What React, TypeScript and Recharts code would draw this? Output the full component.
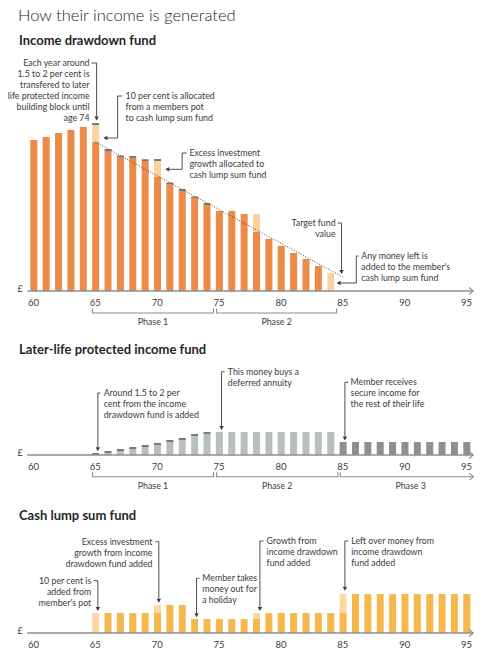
import React from 'react';
import { ComposedChart, Bar, Line, XAxis, YAxis, ReferenceLine, ReferenceDot } from 'recharts';

// ---------- data ----------
const years = [60, 61, 62, 63, 64, 65, 66, 67, 68, 69, 70, 71, 72, 73, 74, 75, 76, 77, 78, 79, 80, 81, 82, 83, 84, 85, 86, 87, 88, 89, 90, 91, 92, 93, 94, 95];
const tickYears = [60, 65, 70, 75, 80, 85, 90, 95];

// Income drawdown fund (ages 60..95)
const drawdownInvested = [151, 154, 158, 161, 164, 149, 140, 134, 133, 130, 114, 107, 100, 93, 86, 80, 80, 77, 59, 52, 45, 38, 32, 25, 0, 0, 0, 0, 0, 0, 0, 0, 0, 0, 0, 0];
const drawdownToCashFund = [0, 0, 0, 0, 0, 17, 0, 0, 0, 0, 16, 0, 0, 0, 0, 0, 0, 0, 18, 0, 0, 0, 0, 0, 18, 0, 0, 0, 0, 0, 0, 0, 0, 0, 0, 0];
const drawdownToLaterLife = [0, 0, 0, 0, 0, 2, 2, 1.5, 2, 1.7, 2, 1.5, 2, 1.5, 2, 0, 0, 0, 0, 0, 0, 0, 0, 0, 0, 0, 0, 0, 0, 0, 0, 0, 0, 0, 0, 0];
const targetFundAges = [65, 85];
const targetFundValues = [149, 14];

// Later-life protected income fund
const laterLifeBuilt = [0, 0, 0, 0, 0, 0, 2, 4, 6, 8, 10, 13, 15, 19, 21, 23, 23, 23, 23, 23, 23, 23, 23, 23, 23, 0, 0, 0, 0, 0, 0, 0, 0, 0, 0, 0];
const laterLifeTransfer = [0, 0, 0, 0, 0, 2, 2, 2, 2, 2, 2, 2, 2, 2, 2, 0, 0, 0, 0, 0, 0, 0, 0, 0, 0, 0, 0, 0, 0, 0, 0, 0, 0, 0, 0, 0];
const annuityIncome = [0, 0, 0, 0, 0, 0, 0, 0, 0, 0, 0, 0, 0, 0, 0, 0, 0, 0, 0, 0, 0, 0, 0, 0, 0, 13, 13, 13, 13, 13, 13, 13, 13, 13, 13, 13];

// Cash lump sum fund
const cashHeld = [0, 0, 0, 0, 0, 0, 20, 20, 20, 20, 20, 28, 28, 14, 14, 14, 14, 14, 14, 20, 20, 20, 20, 20, 20, 20, 39, 39, 39, 39, 39, 39, 39, 39, 39, 39];
const cashAdded = [0, 0, 0, 0, 0, 20, 0, 0, 0, 0, 8, 0, 0, 0, 0, 0, 0, 0, 6, 0, 0, 0, 0, 0, 0, 19, 0, 0, 0, 0, 0, 0, 0, 0, 0, 0];

const drawdownRows = years.map((year, i) => {
  const t = targetFundAges.indexOf(year);
  return {
    year,
    invested: drawdownInvested[i],
    toCash: drawdownToCashFund[i],
    toLaterLife: drawdownToLaterLife[i],
    target: t >= 0 ? targetFundValues[t] : null,
  };
});
const laterRows = years.map((year, i) => ({
  year,
  built: laterLifeBuilt[i],
  transfer: laterLifeTransfer[i],
  annuity: annuityIncome[i],
}));
const cashRows = years.map((year, i) => ({ year, held: cashHeld[i], added: cashAdded[i] }));

// ---------- style ----------
const FONT = "Lato, 'Open Sans', sans-serif";
const INK = '#3b3b3b';
const AXIS = '#8a8f90';
const ORANGE = '#ec8a48';
const ORANGE_LIGHT = '#fbd3a1';
const CAP = '#767b7d';
const GREY_LIGHT = '#b9bebe';
const GREY_DARK = '#8b9191';
const YELLOW = '#f5b84d';
const YELLOW_LIGHT = '#fcd9a3';
const NOTE_SIZE = 8.8;
const LINE_GAP = 11;
const MARGIN = { top: 0, right: 31.3, bottom: 0, left: 27.3 };
const BAR = 7;

// ---------- shapes ----------
const plainSeg = (p: any) => (
  <line x1={p.x1} y1={p.y1} x2={p.x2} y2={p.y2} stroke={INK} strokeWidth={0.9} />
);
const arrowSeg = (p: any) => {
  const dx = p.x2 - p.x1;
  const dy = p.y2 - p.y1;
  const len = Math.sqrt(dx * dx + dy * dy) || 1;
  const ux = dx / len;
  const uy = dy / len;
  const bx = p.x2 - ux * 4;
  const by = p.y2 - uy * 4;
  const pts = `${p.x2},${p.y2} ${bx - uy * 2.2},${by + ux * 2.2} ${bx + uy * 2.2},${by - ux * 2.2}`;
  return (
    <g>
      <line x1={p.x1} y1={p.y1} x2={bx} y2={by} stroke={INK} strokeWidth={0.9} />
      <polygon points={pts} fill={INK} />
    </g>
  );
};
const axisShape = (p: any) => (
  <g>
    <line x1={p.x1} y1={p.y1} x2={p.x2 + 0.5} y2={p.y2} stroke={AXIS} strokeWidth={1.4} />
    <polyline points={`${p.x2 - 3.5},${p.y2 - 3.5} ${p.x2 + 0.5},${p.y2} ${p.x2 - 3.5},${p.y2 + 3.5}`} fill="none" stroke={AXIS} strokeWidth={1.1} />
  </g>
);
const bracketShape = (p: any) => (
  <path d={`M${p.x1},${p.y1 - 4.5} V${p.y1} H${p.x2} V${p.y2 - 4.5}`} fill="none" stroke={AXIS} strokeWidth={1.1} />
);
const openBracketShape = (p: any) => (
  <g>
    <path d={`M${p.x1},${p.y1 - 4.5} V${p.y1} H${p.x2}`} fill="none" stroke={AXIS} strokeWidth={1.1} />
    <polyline points={`${p.x2 - 3.5},${p.y2 - 3.5} ${p.x2 + 0.5},${p.y2} ${p.x2 - 3.5},${p.y2 + 3.5}`} fill="none" stroke={AXIS} strokeWidth={1.1} />
  </g>
);
const textShape = (lines: string[], anchor: 'start' | 'end' | 'middle', size = NOTE_SIZE) => (p: any) => (
  <text x={p.cx} y={p.cy} textAnchor={anchor} fontFamily={FONT} fontSize={size} fill={INK}>
    {lines.map((l, i) => (
      <tspan key={i} x={p.cx} dy={i === 0 ? '0.35em' : LINE_GAP}>{l}</tspan>
    ))}
  </text>
);
const poundShape = (p: any) => (
  <text x={p.cx - 4.5} y={p.cy + 0.5} textAnchor="end" fontFamily={FONT} fontSize={9} fill={INK}>£</text>
);

// ---------- helpers ----------
type Pt = [number, number];
function leader(key: string, pts: Pt[]) {
  const out: any[] = [];
  for (let i = 0; i < pts.length - 1; i++) {
    const last = i === pts.length - 2;
    out.push(
      <ReferenceLine
        key={key + i}
        segment={[{ x: pts[i][0], y: pts[i][1] }, { x: pts[i + 1][0], y: pts[i + 1][1] }]}
        ifOverflow="visible"
        shape={last ? arrowSeg : plainSeg}
      />
    );
  }
  return out;
}
function note(key: string, x: number, y: number, lines: string[], anchor: 'start' | 'end' | 'middle') {
  return <ReferenceDot key={key} x={x} y={y} r={0} ifOverflow="visible" shape={textShape(lines, anchor)} />;
}
function bracket(key: string, from: number, to: number, y: number, open = false) {
  return (
    <ReferenceLine
      key={key}
      segment={[{ x: from, y }, { x: to, y }]}
      ifOverflow="visible"
      shape={open ? openBracketShape : bracketShape}
    />
  );
}
function baseAxis() {
  return [
    <ReferenceLine key="axis" y={0} ifOverflow="visible" shape={axisShape} />,
    <ReferenceDot key="pound" x={59.5} y={0} r={0} ifOverflow="visible" shape={poundShape} />,
  ];
}
const xAxisProps = {
  dataKey: 'year',
  type: 'number' as const,
  domain: [59.5, 95.5],
  ticks: tickYears,
  allowDataOverflow: true,
  axisLine: false,
  tickLine: false,
  interval: 0 as const,
  tick: { fontSize: 9.5, fill: INK, fontFamily: FONT },
};

const titleStyle = (top: number, size: number, weight: number): React.CSSProperties => ({
  position: 'absolute',
  left: 19,
  top,
  fontSize: size,
  fontWeight: weight,
  lineHeight: 1,
  color: '#262626',
  whiteSpace: 'nowrap',
  fontFamily: FONT,
});

export default function App() {
  return (
    <div style={{ position: 'absolute', left: 0, top: 0, width: 504, height: 662, background: '#fff', overflow: 'hidden' }}>
      <div style={{ ...titleStyle(7.4, 16.5, 300), left: 18 }}>How their income is generated</div>
      <div style={titleStyle(34, 13, 700)}>Income drawdown fund</div>
      <div style={titleStyle(342.5, 13, 700)}>Later-life protected income fund</div>
      <div style={titleStyle(508.5, 13, 700)}>Cash lump sum fund</div>

      {/* Income drawdown fund */}
      <div style={{ position: 'absolute', left: 0, top: 50 }}>
        <ComposedChart width={504} height={290} data={drawdownRows} margin={MARGIN}>
          <XAxis {...xAxisProps} height={49} />
          <YAxis hide type="number" domain={[0, 241]} allowDataOverflow />
          <Bar dataKey="invested" stackId="s" fill={ORANGE} barSize={BAR} isAnimationActive={false} />
          <Bar dataKey="toCash" stackId="s" fill={ORANGE_LIGHT} barSize={BAR} isAnimationActive={false} />
          <Bar dataKey="toLaterLife" stackId="s" fill={CAP} barSize={BAR} isAnimationActive={false} />
          <Line dataKey="target" stroke="#4a4a4a" strokeWidth={1} strokeDasharray="1 1.6" dot={false} connectNulls isAnimationActive={false} />
          {baseAxis()}
          {note('a', 64.53, 228, ['Each year around', '1.5 to 2 per cent is', 'transfered to later', 'life protected income', 'building block until', 'age 74'], 'end')}
          {leader('la', [[64.7, 228], [65.1, 228], [65.1, 170.5]])}
          {note('b', 67.44, 195, ['10 per cent is allocated', 'from a members pot', 'to cash lump sum fund'], 'start')}
          {leader('lb', [[67.15, 195], [66.8, 195], [66.8, 153], [65.65, 153]])}
          {note('c', 72.6, 138, ['Excess investment', 'growth allocated to', 'cash lump sum fund'], 'start')}
          {leader('lc', [[72.38, 138], [72.02, 138], [72.02, 121.7], [70.65, 121.7]])}
          {note('d', 84.42, 68, ['Target fund', 'value'], 'end')}
          {leader('ld', [[84.58, 68], [84.9, 68], [84.9, 17]])}
          {note('e', 86.5, 35, ['Any money left is', "added to the member's", 'cash lump sum fund'], 'start')}
          {leader('le', [[86.27, 35], [86.09, 35], [86.09, 8], [84.5, 8]])}
          {bracket('p1', 64.77, 74.55, -22)}
          {bracket('p2', 74.8, 84.5, -22)}
          {note('p1t', 69.66, -31, ['Phase 1'], 'middle')}
          {note('p2t', 79.65, -31, ['Phase 2'], 'middle')}
        </ComposedChart>
      </div>

      {/* Later-life protected income fund */}
      <div style={{ position: 'absolute', left: 0, top: 360 }}>
        <ComposedChart width={504} height={140} data={laterRows} margin={MARGIN}>
          <XAxis {...xAxisProps} height={45} />
          <YAxis hide type="number" domain={[0, 95]} allowDataOverflow />
          <Bar dataKey="built" stackId="s" fill={GREY_LIGHT} barSize={BAR} isAnimationActive={false} />
          <Bar dataKey="transfer" stackId="s" fill={CAP} barSize={BAR} isAnimationActive={false} />
          <Bar dataKey="annuity" stackId="s" fill={GREY_DARK} barSize={BAR} isAnimationActive={false} />
          {baseAxis()}
          {note('f', 65.67, 62, ['Around 1.5 to 2 per', 'cent from the income', 'drawdown fund is added'], 'start')}
          {leader('lf', [[65.42, 62], [65.2, 62], [65.2, 3.8]])}
          {note('g', 75.71, 83.3, ['This money buys a', 'deferred annuity'], 'start')}
          {leader('lg', [[75.44, 83.3], [75.2, 83.3], [75.2, 25]])}
          {note('h', 85.63, 72.7, ['Member receives', 'secure income for', 'the rest of their life'], 'start')}
          {leader('lh', [[85.43, 72.7], [85.17, 72.7], [85.17, 14.5]])}
          {bracket('q1', 64.77, 74.55, -21.7)}
          {bracket('q2', 74.8, 84.6, -21.7)}
          {bracket('q3', 84.8, 95.52, -21.7, true)}
          {note('q1t', 69.66, -30.7, ['Phase 1'], 'middle')}
          {note('q2t', 79.7, -30.7, ['Phase 2'], 'middle')}
          {note('q3t', 90.48, -30.7, ['Phase 3'], 'middle')}
        </ComposedChart>
      </div>

      {/* Cash lump sum fund */}
      <div style={{ position: 'absolute', left: 0, top: 530 }}>
        <ComposedChart width={504} height={132} data={cashRows} margin={MARGIN}>
          <XAxis {...xAxisProps} height={29} />
          <YAxis hide type="number" domain={[0, 103]} allowDataOverflow />
          <Bar dataKey="held" stackId="s" fill={YELLOW} barSize={BAR} isAnimationActive={false} />
          <Bar dataKey="added" stackId="s" fill={YELLOW_LIGHT} barSize={BAR} isAnimationActive={false} />
          {baseAxis()}
          {note('i', 64.67, 52.3, ['10 per cent is', 'added from', "member's pot"], 'end')}
          {leader('li', [[64.85, 52.3], [65.2, 52.3], [65.2, 22]])}
          {note('j', 69.62, 91.3, ['Excess investment', 'growth from income', 'drawdown fund added'], 'end')}
          {leader('lj', [[69.86, 91.3], [70.13, 91.3], [70.13, 30.3]])}
          {note('k', 73.64, 54.7, ['Member takes', 'money out for', 'a holiday'], 'start')}
          {leader('lk', [[73.42, 54.7], [73.18, 54.7], [73.18, 15.7]])}
          {note('l', 78.84, 92, ['Growth from', 'income drawdown', 'fund added'], 'start')}
          {leader('ll', [[78.6, 92], [78.3, 92], [78.3, 22]])}
          {note('m', 85.68, 92, ['Left over money from', 'income drawdown', 'fund added'], 'start')}
          {leader('lm', [[85.43, 92], [85.17, 92], [85.17, 42.3]])}
        </ComposedChart>
      </div>
    </div>
  );
}
